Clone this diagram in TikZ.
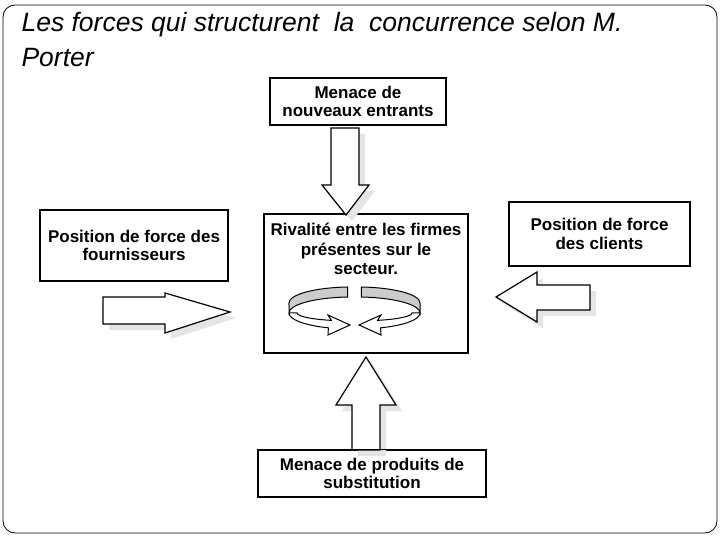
\documentclass[tikz,border=0pt]{standalone}
\usepackage{fontspec}
\setmainfont{Liberation Sans}
\begin{document}
\begin{tikzpicture}[x=1pt,y=-1pt,
  box/.style={draw=black,line width=1.2pt,fill=white,align=center,inner sep=0pt,font=\fontsize{17}{18.5}\selectfont\bfseries},
  blk/.style={draw=black,line width=1.2pt,fill=white,line join=miter},
  shad/.style={fill=black!10,draw=none}]
\useasboundingbox (0,0) rectangle (720,540);
\draw[line width=0.8pt,rounded corners=12pt] (3,5) rectangle (717,533);
\node[anchor=west,font=\fontsize{26.5}{28}\selectfont\itshape] (t1) at (18,25) {Les forces qui structurent\ \ la\ \ concurrence selon M.};
\node[anchor=west,font=\fontsize{26.5}{28}\selectfont\itshape] (t2) at (18,58) {Porter};
% boxes
\node[box,minimum width=176pt,minimum height=47pt] (top) at (358,101.5) {Menace de\\nouveaux entrants};
\node[box,minimum width=188pt,minimum height=71pt] (left) at (134,245.5) {Position de force des\\fournisseurs};
\node[box,minimum width=181pt,minimum height=64pt] (right) at (599.5,234) {Position de force\\des clients};
\node[box,minimum width=204pt,minimum height=139pt] (mid) at (366,283.5) {};
\node[align=center,inner sep=0pt,font=\fontsize{17}{19.5}\selectfont\bfseries] (midt) at (366,249) {Rivalité entre les firmes\\présentes sur le\\secteur.};
\node[box,minimum width=228pt,minimum height=47pt] (bot) at (372,473.5) {Menace de produits de\\substitution};
% down arrow
\fill[shad] (337,134)--(365,134)--(365,191)--(375,191)--(352,221)--(328,191)--(337,191)--cycle;
\draw[blk] (331,128)--(359,128)--(359,185)--(369,185)--(346,215)--(322,185)--(331,185)--cycle;
% right arrow
\fill[shad] (109,303)--(171,303)--(171,299)--(236,318)--(171,339)--(171,330)--(109,330)--cycle;
\draw[blk] (103,297)--(165,297)--(165,293)--(230,312)--(165,333)--(165,324)--(103,324)--cycle;
% left arrow
\fill[shad] (502,303)--(543,278)--(543,291)--(596,291)--(596,316)--(543,316)--(543,328)--cycle;
\draw[blk] (496,297)--(537,272)--(537,285)--(590,285)--(590,310)--(537,310)--(537,322)--cycle;
% up arrow
\fill[shad] (372,363)--(402,411)--(386,411)--(386,456)--(358,456)--(358,411)--(342,411)--cycle;
\draw[blk] (366,357)--(396,405)--(380,405)--(380,450)--(352,450)--(352,405)--(336,405)--cycle;
\draw[blk] (bot.north west)--(bot.north east);
% circular arrows
\foreach \s/\sh in {1/0,-1/709}{
\begin{scope}[xshift=\sh pt,xscale=\s]
\draw[line width=1pt,fill=black!20] (347.6,287) arc[start angle=266,end angle=180,x radius=63,y radius=16] -- (289,313) arc[start angle=180,end angle=266,x radius=63,y radius=16] -- cycle;
\draw[line width=1pt,fill=white,line join=miter] (289,313) arc[start angle=180,end angle=112,x radius=63,y radius=16] -- (328,335) -- (350,325) -- (328,315) -- (331.4,320.4) arc[start angle=112,end angle=180,x radius=55,y radius=8] -- cycle;
\end{scope}}
\end{tikzpicture}
\end{document}
